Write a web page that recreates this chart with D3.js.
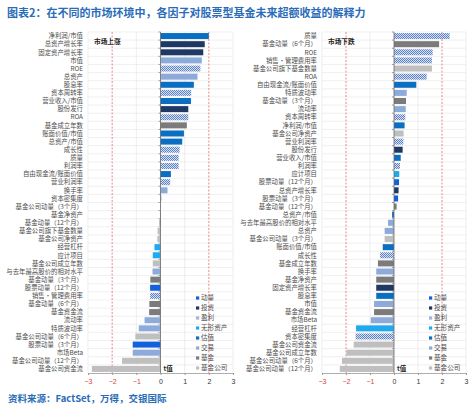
<!DOCTYPE html>
<html><head><meta charset="utf-8">
<script src="https://cdn.jsdelivr.net/npm/d3@7"></script>
<style>
html,body{margin:0;padding:0;background:#fff;}
svg{display:block;font-family:"Noto Sans CJK SC","Noto Sans",sans-serif;}
</style></head>
<body>
<svg id="chart" width="474" height="407"></svg>
<script>
// ---------- DATA ----------
const groupNames = ["动量","投资","盈利","无形资产","估值","交易","基金","基金公司"];
const xTicks = [-3,-2,-1,0,1,2,3];

const upFactors = ["净利润/市值","总资产增长率","固定资产增长率","市值","ROE","总资产","股息率","资本周转率","营业收入/市值","股份发行","ROA","基金成立年数","账面价值/市值","总资产/市值","成长性","质量","利润率","自由现金流/账面价值","营业利润率","换手率","资本密集度","基金公司动量（3个月）","基金净资产","基金动量（12个月）","基金公司旗下基金数量","基金公司净资产","经营杠杆","应计项目","基金公司成立年数","与去年最高股价的相对水平","基金动量（3个月）","股票动量（12个月）","销售·管理费用率","基金动量（6个月）","基金资金流","流动率","特质波动率","基金公司动量（6个月）","股票动量（3个月）","市场Beta","基金公司动量（12个月）","基金公司资金流"];
const upValues = [2.0,1.83,1.77,1.71,1.65,1.53,1.38,1.27,1.26,1.15,1.15,1.09,0.97,0.9,0.79,0.75,0.75,0.43,0.4,0.29,0.04,0.02,-0.02,-0.04,-0.12,-0.13,-0.25,-0.32,-0.32,-0.33,-0.42,-0.43,-0.43,-0.46,-0.47,-0.66,-0.9,-1.04,-1.15,-1.15,-1.59,-2.84];

const downFactors = ["质量","基金动量（6个月）","ROE","销售·管理费用率","基金公司旗下基金数量","ROA","自由现金流/账面价值","特质波动率","基金动量（3个月）","流动率","资本周转率","净利润/市值","基金公司净资产","营业利润率","股份发行","营业收入/市值","利润率","应计项目","股票动量（12个月）","总资产增长率","股票动量（3个月）","基金动量（12个月）","总资产/市值","与去年最高股价的相对水平","总资产","基金公司动量（3个月）","账面价值/市值","成长性","基金成立年数","换手率","基金净资产","固定资产增长率","股息率","市值","基金资金流","市场Beta","经营杠杆","资本密集度","基金公司资金流","基金公司成立年数","基金公司动量（6个月）","基金公司动量（12个月）"];
const downValues = [2.32,1.88,1.61,1.58,1.58,1.36,0.93,0.53,0.5,0.49,0.47,0.44,0.4,0.39,0.36,0.28,0.25,0.22,0.21,0.19,0.17,0.11,-0.08,-0.25,-0.39,-0.39,-0.47,-0.58,-0.67,-0.74,-0.74,-0.74,-0.74,-0.83,-0.83,-0.97,-1.58,-1.6,-1.68,-1.99,-2.17,-2.26];

// factor -> group
const factorGroups = [
 ["股票动量（12个月）","动量"],["股票动量（3个月）","动量"],
 ["总资产增长率","投资"],["固定资产增长率","投资"],["股份发行","投资"],
 ["ROE","盈利"],["ROA","盈利"],["资本周转率","盈利"],["成长性","盈利"],["质量","盈利"],["利润率","盈利"],["营业利润率","盈利"],["销售·管理费用率","盈利"],["资本密集度","盈利"],
 ["经营杠杆","无形资产"],["应计项目","无形资产"],
 ["净利润/市值","估值"],["营业收入/市值","估值"],["账面价值/市值","估值"],["总资产/市值","估值"],["股息率","估值"],["自由现金流/账面价值","估值"],
 ["市值","交易"],["总资产","交易"],["换手率","交易"],["流动率","交易"],["特质波动率","交易"],["市场Beta","交易"],["与去年最高股价的相对水平","交易"],
 ["基金成立年数","基金"],["基金净资产","基金"],["基金动量（12个月）","基金"],["基金动量（3个月）","基金"],["基金动量（6个月）","基金"],["基金资金流","基金"],
 ["基金公司动量（3个月）","基金公司"],["基金公司旗下基金数量","基金公司"],["基金公司净资产","基金公司"],["基金公司成立年数","基金公司"],["基金公司动量（6个月）","基金公司"],["基金公司动量（12个月）","基金公司"],["基金公司资金流","基金公司"]
];

// ---------- STYLE ----------
const groupMap = new Map(factorGroups);
const groupColor = {
  "动量":"#1160dc","投资":"#1f3864","盈利":"url(#hatch)","无形资产":"#1fa9ee",
  "估值":"#0a6fc2","交易":"#8eaadb","基金":"#7b7b7b","基金公司":"#bfbfbf"
};
const legendColor = Object.assign({}, groupColor, {"盈利":"#9fb5e0"});

const svg = d3.select("#chart");
const defs = svg.append("defs");
const pat = defs.append("pattern").attr("id","hatch").attr("width",2).attr("height",2).attr("patternUnits","userSpaceOnUse");
pat.append("rect").attr("width",2).attr("height",2).attr("fill","#d6e0f3");
pat.append("rect").attr("width",1).attr("height",1).attr("fill","#5f83c4");
pat.append("rect").attr("x",1).attr("y",1).attr("width",1).attr("height",1).attr("fill","#5f83c4");

// Title
svg.append("text").attr("x",7).attr("y",16.5).attr("font-size",11).attr("font-weight","bold")
  .attr("fill","#2a6cb8").text("图表2：在不同的市场环境中，各因子对股票型基金未来超额收益的解释力");
svg.append("text").attr("x",8).attr("y",402).attr("font-size",9.5).attr("font-weight","bold")
  .attr("fill","#2a6cb8").text("资料来源：FactSet，万得，交银国际");

function panel(factors, values, x0, x1, title, legendX){
  const x = d3.scaleLinear().domain([-3,3]).range([x0,x1]);
  const y = d3.scaleBand().domain(factors).range([32,373]).paddingInner(0);
  const g = svg.append("g");
  // horizontal gridlines
  g.selectAll(".hg").data(factors).enter().append("line")
    .attr("x1",x0).attr("x2",x1)
    .attr("y1",d=>y(d)).attr("y2",d=>y(d))
    .attr("stroke","#e6e6e6").attr("stroke-width",0.6);
  // vertical gridlines
  g.selectAll(".vg").data(xTicks.filter(t=>t!==0)).enter().append("line")
    .attr("x1",d=>x(d)).attr("x2",d=>x(d)).attr("y1",32).attr("y2",373)
    .attr("stroke",d=>Math.abs(d)===2?"#e07070":"#e3e3e3")
    .attr("stroke-width",d=>Math.abs(d)===2?0.8:0.6)
    .attr("stroke-dasharray",d=>Math.abs(d)===2?"2,1.5":null);
  // bars
  const bh = y.bandwidth()*0.74;
  g.selectAll(".bar").data(factors).enter().append("rect")
    .attr("x",(d,i)=>x(Math.min(0,values[i])))
    .attr("width",(d,i)=>Math.abs(x(values[i])-x(0)))
    .attr("y",d=>y(d)+(y.bandwidth()-bh)/2)
    .attr("height",bh)
    .attr("fill",d=>groupColor[groupMap.get(d)]);
  // zero axis
  g.append("line").attr("x1",x(0)).attr("x2",x(0)).attr("y1",32).attr("y2",373)
    .attr("stroke","#6a6a6a").attr("stroke-width",0.8);
  g.selectAll(".yt").data(factors).enter().append("line")
    .attr("x1",x(0)-2).attr("x2",x(0)).attr("y1",d=>y(d)).attr("y2",d=>y(d))
    .attr("stroke","#6a6a6a").attr("stroke-width",0.6);
  // category labels
  g.selectAll(".lab").data(factors).enter().append("text")
    .attr("x",x0-5).attr("y",d=>y(d)+y.bandwidth()/2)
    .attr("dy","0.35em").attr("text-anchor","end").attr("font-size",6.4)
    .attr("fill","#4d4d4d").text(d=>d);
  // x axis
  const ax = g.append("g").attr("transform","translate(0,373)")
    .call(d3.axisBottom(x).tickValues(xTicks).tickSize(2).tickFormat(d3.format("d")));
  ax.select(".domain").attr("stroke","#9a9a9a").attr("stroke-width",0.8);
  ax.selectAll(".tick line").attr("stroke","#9a9a9a");
  ax.selectAll(".tick text").attr("font-size",7).attr("dy","0.9em")
    .attr("fill",d=>d<0?"#d04545":"#333").attr("font-family","Liberation Sans, Arial, sans-serif");
  // panel title
  g.append("text").attr("x",x0+6).attr("y",44).attr("font-size",6.7).attr("font-weight","bold")
    .attr("fill","#222").text(title);
  // t值
  const last = factors[factors.length-1];
  g.append("text").attr("x",x(0)+3).attr("y",y(last)+y.bandwidth()/2).attr("dy","0.35em")
    .attr("font-size",6.5).attr("font-weight","bold").attr("fill","#222").text("t值");
  // legend
  const lg = g.selectAll(".lg").data(groupNames).enter().append("g")
    .attr("transform",(d,i)=>`translate(${legendX},${298+i*10})`);
  lg.append("rect").attr("x",0).attr("y",-1.6).attr("width",3.2).attr("height",3.2)
    .attr("fill",d=>legendColor[d]);
  lg.append("text").attr("x",5).attr("y",0).attr("dy","0.35em").attr("font-size",6.6)
    .attr("fill","#4d4d4d").text(d=>d);
}

panel(upFactors, upValues, 88, 233, "市场上涨", 196);
panel(downFactors, downValues, 322, 466, "市场下跌", 429);
</script>
</body></html>
